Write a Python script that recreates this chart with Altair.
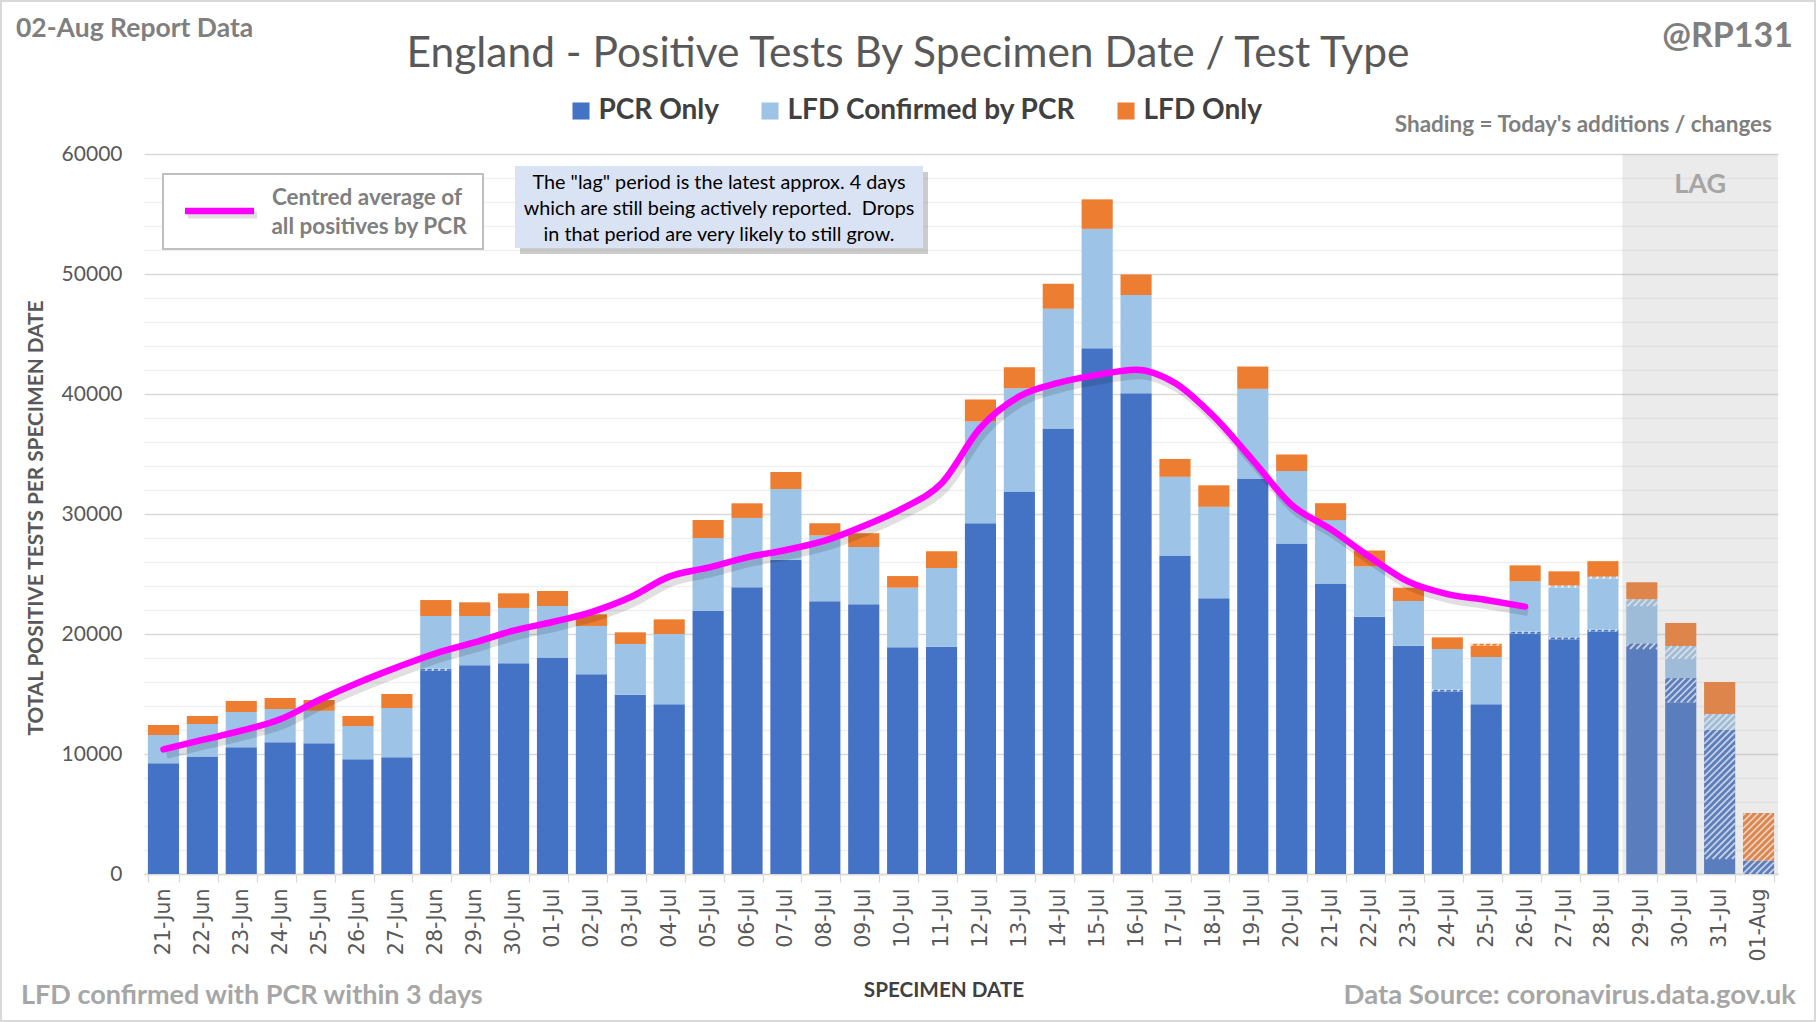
import math

import altair as alt
import pandas as pd

# ---- data -------------------------------------------------------------------
dates = [
    "21-Jun", "22-Jun", "23-Jun", "24-Jun", "25-Jun", "26-Jun", "27-Jun", "28-Jun", "29-Jun", "30-Jun",
    "01-Jul", "02-Jul", "03-Jul", "04-Jul", "05-Jul", "06-Jul", "07-Jul", "08-Jul", "09-Jul", "10-Jul",
    "11-Jul", "12-Jul", "13-Jul", "14-Jul", "15-Jul", "16-Jul", "17-Jul", "18-Jul", "19-Jul", "20-Jul",
    "21-Jul", "22-Jul", "23-Jul", "24-Jul", "25-Jul", "26-Jul", "27-Jul", "28-Jul", "29-Jul", "30-Jul",
    "31-Jul", "01-Aug",
]

pcr_only = [
    9220, 9800, 10560, 10970, 10890, 9560, 9720, 17100, 17390, 17560,
    18050, 16640, 14940, 14140, 21940, 23890, 26190, 22720, 22470, 18890,
    18940, 29230, 31870, 37120, 43820, 40060, 26550, 22970, 32950, 27550,
    24200, 21440, 19030, 15360, 14140, 20190, 19720, 20360, 19220, 16330,
    12000, 1110,
]
lfd_confirmed = [
    2360, 2700, 2940, 2780, 2710, 2770, 4110, 4400, 4110, 4610,
    4280, 4030, 4230, 5860, 6060, 5780, 5890, 5480, 4780, 4970,
    6560, 8480, 8600, 9980, 9940, 8190, 6550, 7630, 7480, 6030,
    5290, 4190, 3720, 3390, 3940, 4200, 4310, 4410, 3670, 2670,
    1330, 0,
]
lfd_only = [
    840, 670, 920, 920, 900, 840, 1170, 1330, 1140, 1220,
    1250, 970, 970, 1220, 1500, 1220, 1420, 1020, 1140, 970,
    1400, 1830, 1750, 2080, 2460, 1710, 1490, 1790, 1860, 1380,
    1410, 1330, 1110, 970, 1110, 1330, 1190, 1300, 1420, 1920,
    2670, 3970,
]

# part of each series that was added / changed in today's report (hatched)
pcr_new = [
    0, 0, 0, 0, 0, 0, 0, 150, 0, 0,
    0, 0, 0, 0, 0, 0, 0, 0, 0, 0,
    0, 0, 0, 0, 0, 0, 0, 0, 0, 0,
    0, 0, 0, 150, 0, 150, 150, 150, 470, 2020,
    10750, 1110,
]
lfd_confirmed_new = [
    0, 0, 0, 0, 0, 0, 0, 0, 0, 0,
    0, 0, 0, 0, 0, 0, 0, 0, 0, 0,
    0, 0, 0, 0, 0, 0, 0, 0, 0, 0,
    0, 0, 0, 0, 0, 0, 150, 150, 560, 1080,
    1330, 0,
]
lfd_only_new = [
    0, 0, 0, 0, 0, 0, 0, 0, 0, 0,
    0, 0, 0, 0, 0, 0, 0, 0, 0, 0,
    0, 0, 0, 0, 0, 0, 0, 0, 0, 0,
    0, 0, 0, 0, 150, 0, 0, 0, 0, 0,
    0, 3970,
]

# centred average of all positives by PCR (21-Jun .. 26-Jul)
avg_dates = dates[:36]
centred_avg = [
    10390, 11170, 11940, 12890, 14500, 15940, 17220, 18390, 19300, 20280,
    21000, 21830, 23060, 24780, 25530, 26390, 27000, 27780, 29000, 30470,
    32560, 37190, 39800, 40920, 41590, 42030, 40920, 38120, 34470, 30750,
    28740, 26440, 24360, 23330, 22830, 22280,
]

lag_dates = ["29-Jul", "30-Jul", "31-Jul", "01-Aug"]

series_names = ["PCR Only", "LFD Confirmed by PCR", "LFD Only"]
series_colors = ["#4472C4", "#9DC3E6", "#ED7D31"]

# ---- layout -----------------------------------------------------------------
PLOT_W, PLOT_H = 1634, 720
Y_MAX = 60000
N = len(dates)
PX_DAY = PLOT_W / N
PX_VAL = PLOT_H / Y_MAX
HATCH_STEP = 6.5          # horizontal spacing of hatch stripes, px
FONT = "Lato"

# ---- stacked segments ---------------------------------------------------------
seg_rows, hatch_rows = [], []


def hatch_lines(i, v0, v1):
    """45-degree stripes clipped to the bar segment [i-0.4, i+0.4] x [v0, v1]."""
    x0, x1 = (i - 0.4) * PX_DAY, (i + 0.4) * PX_DAY
    y0, y1 = v0 * PX_VAL, v1 * PX_VAL
    c = math.floor((x0 - y1) / HATCH_STEP) * HATCH_STEP
    while c <= x1 - y0:
        xs, xe = max(x0, y0 + c), min(x1, y1 + c)
        if xe > xs:
            hatch_rows.append({
                "xq": xs / PX_DAY, "xq2": xe / PX_DAY,
                "yq": (xs - c) / PX_VAL, "yq2": (xe - c) / PX_VAL,
            })
        c += HATCH_STEP


for i, d in enumerate(dates):
    base = 0
    for name, total, new in (
        ("PCR Only", pcr_only[i], pcr_new[i]),
        ("LFD Confirmed by PCR", lfd_confirmed[i], lfd_confirmed_new[i]),
        ("LFD Only", lfd_only[i], lfd_only_new[i]),
    ):
        solid = total - new
        if solid > 0:
            seg_rows.append({"date": d, "series": name, "y0": base, "y1": base + solid})
        base += solid
        if new > 0:
            seg_rows.append({"date": d, "series": name, "y0": base, "y1": base + new})
            hatch_lines(i, base, base + new)
        base += new

segments = pd.DataFrame(seg_rows)
hatches = pd.DataFrame(hatch_rows)
avg_df = pd.DataFrame({"date": avg_dates, "avg": centred_avg})
lag_start = dates.index(lag_dates[0]) - 0.5
lag_end = dates.index(lag_dates[-1]) + 0.5
lag_df = pd.DataFrame({"xq": [lag_start], "xq2": [lag_end], "yq": [0], "yq2": [Y_MAX],
                       "xc": [(lag_start + lag_end) / 2], "t": ["LAG"]})

# ---- shared encodings ---------------------------------------------------------
Y_SCALE = alt.Scale(domain=[0, Y_MAX], nice=False, zero=True)
Y_AXIS = alt.Axis(
    values=list(range(0, Y_MAX + 1, 2000)),
    labelExpr="datum.value % 10000 === 0 ? datum.label : ''",
    format="d",
    gridColor=alt.condition("datum.value % 10000 === 0", alt.value("#D9D9D9"), alt.value("#F0F0F0")),
    gridWidth=1.3,
    domain=False,
    ticks=False,
    labelFont=FONT,
    labelFontSize=21,
    labelColor="#595959",
    labelPadding=22,
    title=None,
)
X_SCALE = alt.Scale(domain=dates, paddingInner=0.2, paddingOuter=0.1)
X_AXIS = alt.Axis(
    labelAngle=270,
    labelFont="DejaVu Sans",
    labelFontSize=20.5,
    labelColor="#595959",
    labelPadding=6,
    labelOverlap=False,
    tickBand="extent",
    tickSize=8,
    tickColor="#D9D9D9",
    tickWidth=1.3,
    domainColor="#D9D9D9",
    domainWidth=1.5,
    grid=False,
    title=None,
)
XQ_SCALE = alt.Scale(domain=[-0.5, N - 0.5], nice=False, zero=False)

# ---- bars ---------------------------------------------------------------------
bars = alt.Chart(segments).mark_bar().encode(
    x=alt.X("date:N", scale=X_SCALE, axis=X_AXIS),
    y=alt.Y("y0:Q", scale=Y_SCALE, axis=Y_AXIS),
    y2="y1:Q",
    color=alt.Color(
        "series:N",
        scale=alt.Scale(domain=series_names, range=series_colors),
        legend=alt.Legend(
            orient="none", legendX=423, legendY=-57, direction="horizontal",
            title=None, symbolType="square", symbolSize=290, symbolStrokeWidth=0,
            labelFont=FONT, labelFontSize=28, labelFontWeight="bold", labelColor="#404040",
            labelOffset=3.5, columnPadding=36, labelLimit=0,
        ),
    ),
)

hatch = alt.Chart(hatches).mark_rule(color="white", strokeWidth=1.8, opacity=0.75).encode(
    x=alt.X("xq:Q", scale=XQ_SCALE, axis=None),
    x2="xq2:Q",
    y=alt.Y("yq:Q", scale=Y_SCALE, axis=Y_AXIS),
    y2="yq2:Q",
)

lag_rect = alt.Chart(lag_df).mark_rect(color="#A6A6A6", opacity=0.22).encode(
    x=alt.X("xq:Q", scale=XQ_SCALE, axis=None),
    x2="xq2:Q",
    y=alt.Y("yq:Q", scale=Y_SCALE, axis=Y_AXIS),
    y2="yq2:Q",
)

lag_text = alt.Chart(lag_df).mark_text(
    font=FONT, fontSize=27, fontWeight="bold", color="#A6A6A6", baseline="middle", align="center"
).encode(
    x=alt.X("xc:Q", scale=XQ_SCALE, axis=None),
    y=alt.value(31),
    text="t:N",
)

# ---- centred average line -----------------------------------------------------
line_shadow = alt.Chart(avg_df).mark_line(
    color="#000000", opacity=0.12, strokeWidth=9, interpolate="monotone", xOffset=3, yOffset=5,
).encode(
    x=alt.X("date:N", scale=X_SCALE, axis=None),
    y=alt.Y("avg:Q", scale=Y_SCALE, axis=Y_AXIS),
)
line = alt.Chart(avg_df).mark_line(
    color="#FF00FF", strokeWidth=6.5, interpolate="monotone", strokeCap="round",
).encode(
    x=alt.X("date:N", scale=X_SCALE, axis=None),
    y=alt.Y("avg:Q", scale=Y_SCALE, axis=Y_AXIS),
)


# ---- boxes and free text ------------------------------------------------------
def one():
    return alt.Chart(pd.DataFrame({"k": [0]}))


def text(t, x, y, size, color, weight="bold", align="left", angle=0, font=FONT):
    return alt.Chart(pd.DataFrame({"t": [t]})).mark_text(
        align=align, baseline="middle", fontSize=size, font=font,
        fontWeight=weight, color=color, angle=angle,
    ).encode(x=alt.value(x), y=alt.value(y), text="t:N")


def box(x, x2, y, y2, **style):
    return one().mark_rect(**style).encode(
        x=alt.value(x), x2=alt.value(x2), y=alt.value(y), y2=alt.value(y2)
    )


def hline(x, x2, y, **style):
    return one().mark_rule(**style).encode(x=alt.value(x), x2=alt.value(x2), y=alt.value(y))


legend_box = box(19, 339, 20, 95, fill="white", stroke="#BFBFBF", strokeWidth=2)
legend_shadow = hline(44, 113, 61, color="#000000", strokeWidth=7, opacity=0.12)
legend_sample = hline(41, 110, 57, color="#FF00FF", strokeWidth=6.5)
legend_t1 = text("Centred average of", 223, 44, 22.5, "#7F7F7F", align="center")
legend_t2 = text("all positives by PCR", 225, 73, 22.5, "#7F7F7F", align="center")

note_shadow = box(376, 784, 18, 100, fill="#7F7F7F", opacity=0.4)
note_box = box(371, 779, 12, 94, fill="#DAE3F3")
note_lines = [
    'The "lag" period is the latest approx. 4 days',
    "which are still being actively reported.\u00a0 Drops",
    "in that period are very likely to still grow.",
]
note_texts = [text(s, 575, 29 + 26 * k, 19.8, "#000000", weight="normal", align="center")
              for k, s in enumerate(note_lines)]

frame = box(-143, 1671, -153, 867, fillOpacity=0, stroke="#D9D9D9", strokeWidth=2)

title = text("England - Positive Tests By Specimen Date / Test Type", 764, -100, 42.5, "#595959",
             weight="normal", align="center")
report = text("02-Aug Report Data", -128, -125, 26.5, "#7F7F7F")
handle = text("@RP131", 1649, -117, 34, "#7F7F7F", align="right")
shading = text("Shading = Today's additions / changes", 1628, -29, 22.5, "#7F7F7F", align="right")
footer_l = text("LFD confirmed with PCR within 3 days", -123, 842, 27, "#A6A6A6")
footer_r = text("Data Source: coronavirus.data.gov.uk", 1652, 842, 27.5, "#A6A6A6", align="right")
x_title = text("SPECIMEN DATE", 800, 837, 20.7, "#404040", align="center")
y_title = text("TOTAL POSITIVE TESTS PER SPECIMEN DATE", -107, 364, 20.8, "#595959",
               align="center", angle=270)

chart = alt.layer(
    bars, hatch, lag_rect, lag_text, line_shadow, line,
    legend_box, legend_shadow, legend_sample, legend_t1, legend_t2,
    note_shadow, note_box, *note_texts,
    title, report, handle, shading, footer_l, footer_r, x_title, y_title, frame,
).resolve_scale(
    x="independent"
).properties(
    width=PLOT_W,
    height=PLOT_H,
    padding={"left": 144, "top": 154, "right": 38, "bottom": 148},
    autosize=alt.AutoSizeParams(type="none"),
    background="white",
).configure_view(strokeWidth=0)

chart.save("out.html", embed_options={"renderer": "svg", "actions": False})
